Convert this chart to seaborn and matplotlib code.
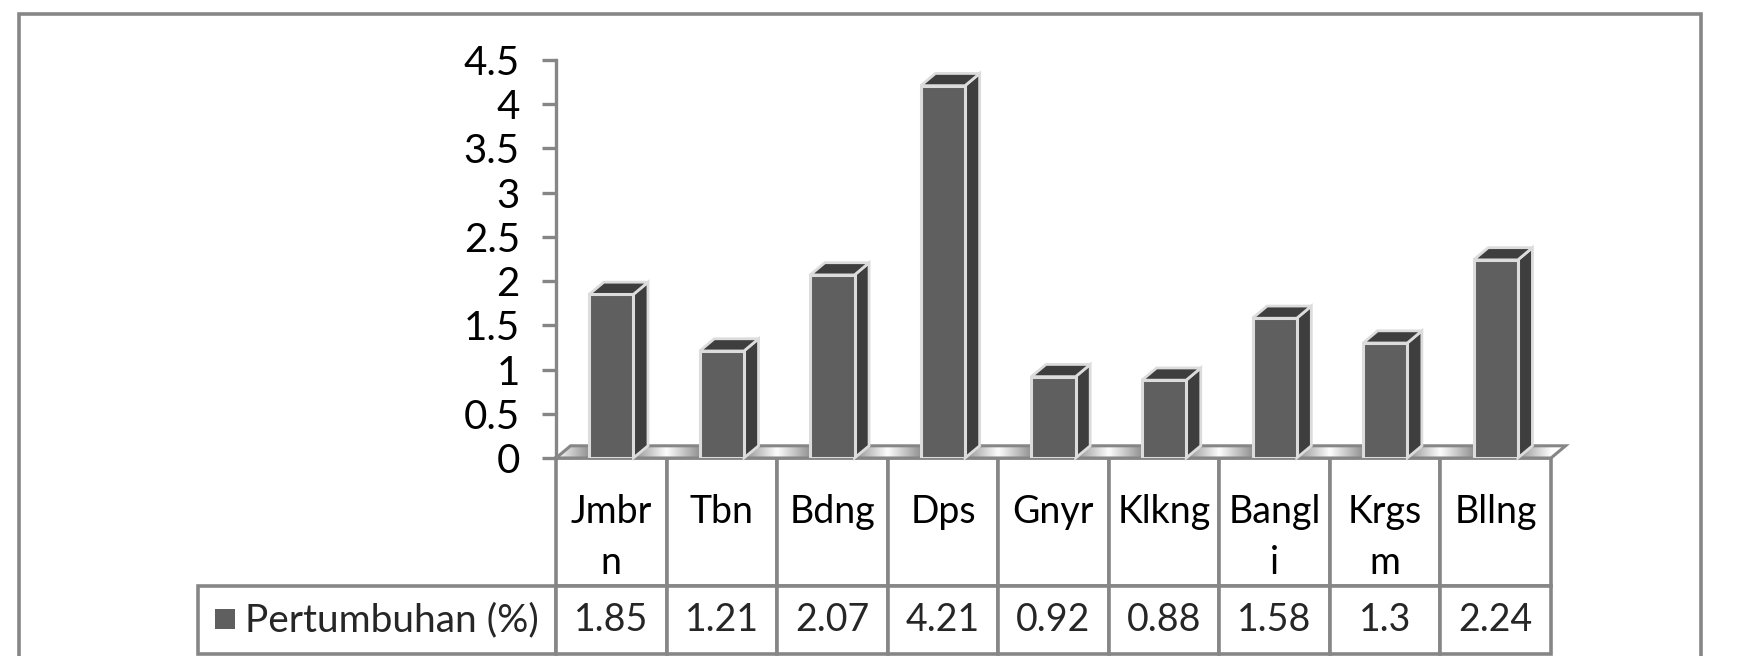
"""
Pertumbuhan (%) per kabupaten, bar chart with fake 3D faces and a data table.
"""
import numpy as np
import pandas as pd
import seaborn as sns
import matplotlib.pyplot as plt
from matplotlib.patches import Polygon, Rectangle

# Data
regions = ['Jmbrn', 'Tbn', 'Bdng', 'Dps', 'Gnyr', 'Klkng', 'Bangli', 'Krgsm', 'Bllng']
region_labels = ['Jmbr\nn', 'Tbn', 'Bdng', 'Dps', 'Gnyr', 'Klkng', 'Bangl\ni', 'Krgs\nm', 'Bllng']
growth = [1.85, 1.21, 2.07, 4.21, 0.92, 0.88, 1.58, 1.3, 2.24]
growth_labels = ['1.85', '1.21', '2.07', '4.21', '0.92', '0.88', '1.58', '1.3', '2.24']
yticks = [0, 0.5, 1, 1.5, 2, 2.5, 3, 3.5, 4, 4.5]
ytick_labels = ['0', '0.5', '1', '1.5', '2', '2.5', '3', '3.5', '4', '4.5']
series_name = 'Pertumbuhan (%)'

W, H = 1737, 656
GREY = '#868686'
FRONT = '#5f5f5f'
DARK = '#3e3e3e'
RIM = '#dcdcdc'
# depth of the fake 3D faces, in data units
DEPTH_X = 0.132
DEPTH_Y = 0.138

sns.set_theme(style='white')
plt.rcParams['font.family'] = ['Lato', 'DejaVu Sans']

fig = plt.figure(figsize=(W / 100, H / 100), dpi=100)
left, right, top, bottom = 556, 1551, 60, 458
ax = fig.add_axes([left / W, 1 - bottom / H, (right - left) / W, (bottom - top) / H])

df = pd.DataFrame({'region': regions, 'growth': growth})
sns.barplot(data=df, x='region', y='growth', color=FRONT, saturation=1, width=0.40,
            edgecolor=RIM, linewidth=2.2, ax=ax, zorder=4)
ax.set_xlim(-0.5, 8.5)
ax.set_ylim(0, 4.5)
ax.set_xlabel('')
ax.set_ylabel('')

# floor of the chart, gradient seams hidden behind the bars
floor_pts = [(-0.5, 0), (8.5, 0), (8.5 + DEPTH_X, DEPTH_Y), (-0.5 + DEPTH_X, DEPTH_Y)]
floor = Polygon(floor_pts, closed=True, facecolor='none', edgecolor=GREY, lw=2.2,
                clip_on=False, zorder=2)
ax.add_patch(floor)
grad = np.tile(np.r_[np.linspace(0.3, 0.98, 30), np.linspace(0.98, 0.3, 30)], 10)[None, :]
im = ax.imshow(grad, cmap='gray', vmin=0, vmax=1, aspect='auto', zorder=1,
               extent=(-1, 9, 0, DEPTH_Y), clip_on=True)
im.set_clip_path(floor)
ax.set_xlim(-0.5, 8.5)
ax.set_ylim(0, 4.5)

# side and top faces from the bars seaborn drew
for bar in ax.patches:
    if not isinstance(bar, Rectangle):
        continue
    x0, x1 = bar.get_x(), bar.get_x() + bar.get_width()
    h = bar.get_height()
    side = [(x1, 0), (x1 + DEPTH_X, DEPTH_Y), (x1 + DEPTH_X, h + DEPTH_Y), (x1, h)]
    lid = [(x0, h), (x1, h), (x1 + DEPTH_X, h + DEPTH_Y), (x0 + DEPTH_X, h + DEPTH_Y)]
    for pts in (side, lid):
        ax.add_patch(Polygon(pts, closed=True, facecolor=DARK, edgecolor=RIM, lw=2.0,
                             zorder=3, clip_on=False))

sns.despine(ax=ax, bottom=True, right=True, top=True)
ax.spines['left'].set_color(GREY)
ax.spines['left'].set_linewidth(2.4)
ax.set_yticks(yticks)
ax.set_yticklabels(ytick_labels, fontsize=29, color='black')
ax.tick_params(axis='y', left=True, length=10, width=2.4, color=GREY, pad=16)
ax.set_xticks([])

# data table below the axes, header text added by hand so it can sit lower
table = ax.table(cellText=[growth_labels], colLabels=[''] * 9,
                 colWidths=[1 / 9] * 9, loc='bottom', cellLoc='center')
table.auto_set_font_size(False)
table.set_fontsize(27)
head_h = 128 / (bottom - top)
row_h = 68 / (bottom - top)
# row header added as its own cell, so its width stays fixed
header = table.add_cell(1, -1, width=(left - 198) / (right - left), height=row_h,
                        text=series_name, loc='left')
header.PAD = 0.13
header.set_text_props(fontsize=28)
for (r, c), cell in table.get_celld().items():
    cell.set_edgecolor(GREY)
    cell.set_linewidth(2.6)
    cell.set_height(head_h if r == 0 else row_h)

px, py = 1 / (right - left), 1 / (bottom - top)
for i, label in enumerate(region_labels):
    ax.annotate(label, xy=(i, 0), xycoords=('data', 'axes fraction'), xytext=(0, -36),
                textcoords='offset pixels', ha='center', va='top', fontsize=27,
                linespacing=1.5, color='black', annotation_clip=False)

# square key in the row header cell
ax.add_patch(Rectangle(((215 - left) * px, (458 - 629) * py), 20 * px, 20 * py,
                       transform=ax.transAxes, facecolor=FRONT, edgecolor='none',
                       clip_on=False, zorder=6))

# outer frame of the chart area, its bottom runs off the picture
fig.add_artist(Rectangle((18.5 / W, -0.02), (1701 - 18.5) / W, 1.02 - 13.5 / H,
                         transform=fig.transFigure, facecolor='none', edgecolor=GREY, lw=2.6))

fig.savefig('out.png', dpi=100)
